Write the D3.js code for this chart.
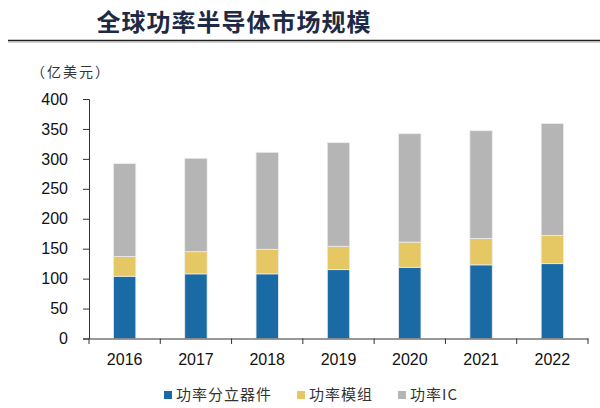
<!DOCTYPE html>
<html><head><meta charset="utf-8">
<script src="https://cdn.jsdelivr.net/npm/d3@7"></script>
<style>body{margin:0;background:#fff}svg{display:block}</style>
</head><body>
<svg id="c" width="600" height="408"></svg>
<script>
const years = ["2016","2017","2018","2019","2020","2021","2022"];
const discrete = [104,108,108,115,119,123,125];
const module_ = [33,37,41,39,42,44,47];
const ic = [155,156,162,173,181,180,187];
const seriesNames = ["功率分立器件","功率模组","功率IC"];
const colors = ["#1a6aa5","#e5c764","#b5b5b5"];
const yTicks = [0,50,100,150,200,250,300,350,400];

const svg = d3.select("#c");
const cjk = "'Noto Sans CJK SC','Noto Sans',sans-serif";
const lat = "'Liberation Sans',Arial,sans-serif";

// title
svg.append("text").attr("x",234).attr("y",31).attr("text-anchor","middle")
  .attr("font-family",cjk).attr("font-weight","bold").attr("font-size",24)
  .attr("fill","#1e2a45").attr("letter-spacing",1).text("全球功率半导体市场规模");
svg.append("line").attr("x1",8).attr("x2",600).attr("y1",40.5).attr("y2",40.5)
  .attr("stroke","#222").attr("stroke-width",1.6);
svg.append("line").attr("x1",8).attr("x2",600).attr("y1",42).attr("y2",42)
  .attr("stroke","#aaa").attr("stroke-width",1);

svg.append("text").attr("x",31).attr("y",77).attr("font-family",cjk).attr("font-size",14)
  .attr("fill","#333").attr("letter-spacing",2).text("（亿美元）");

const x = d3.scaleBand().domain(years).range([89,588]).paddingInner(0.686).paddingOuter(0.343);
const y = d3.scaleLinear().domain([0,400]).range([338.5,99]);

const rows = years.map((yr,i)=>({year:yr, a:discrete[i], b:module_[i], c:ic[i]}));
const stack = d3.stack().keys(["a","b","c"])(rows);

svg.append("g").selectAll("g").data(stack).join("g").attr("fill",(d,i)=>colors[i])
  .selectAll("rect").data(d=>d).join("rect")
  .attr("x",d=>x(d.data.year)).attr("width",x.bandwidth())
  .attr("y",d=>y(d[1])).attr("height",d=>y(d[0])-y(d[1]))
  .attr("stroke","#ececec").attr("stroke-width",0.8);

// y axis
const ya = svg.append("g").attr("transform","translate(89,0)")
  .call(d3.axisLeft(y).tickValues(yTicks).tickSize(6).tickPadding(15).tickFormat(d3.format("d")));
ya.select(".domain").attr("stroke","#333");
ya.selectAll(".tick line").attr("stroke","#333");
ya.selectAll("text").attr("font-family",lat).attr("font-size",16).attr("fill","#111");

// x axis with ticks at band boundaries
const xa = svg.append("g").attr("transform","translate(0,338.5)")
  .call(d3.axisBottom(x).tickSize(0).tickPadding(15));
xa.select(".domain").attr("stroke","#333");
xa.selectAll("text").attr("font-family",lat).attr("font-size",16).attr("fill","#111");
const step = x.step();
const bounds = d3.range(years.length+1).map(i=>89+i*step);
svg.append("g").selectAll("line").data(bounds).join("line")
  .attr("x1",d=>d).attr("x2",d=>d).attr("y1",338.5).attr("y2",344).attr("stroke","#333");

// legend
const legX = [164,297,398];
const lg = svg.append("g").selectAll("g").data(seriesNames).join("g")
  .attr("transform",(d,i)=>`translate(${legX[i]},391)`);
lg.append("rect").attr("width",8).attr("height",8).attr("fill",(d,i)=>colors[i]);
lg.append("text").attr("x",12).attr("y",9).attr("font-family",cjk).attr("font-size",15)
  .attr("fill","#333").attr("letter-spacing",1).text(d=>d);
</script>
</body></html>
